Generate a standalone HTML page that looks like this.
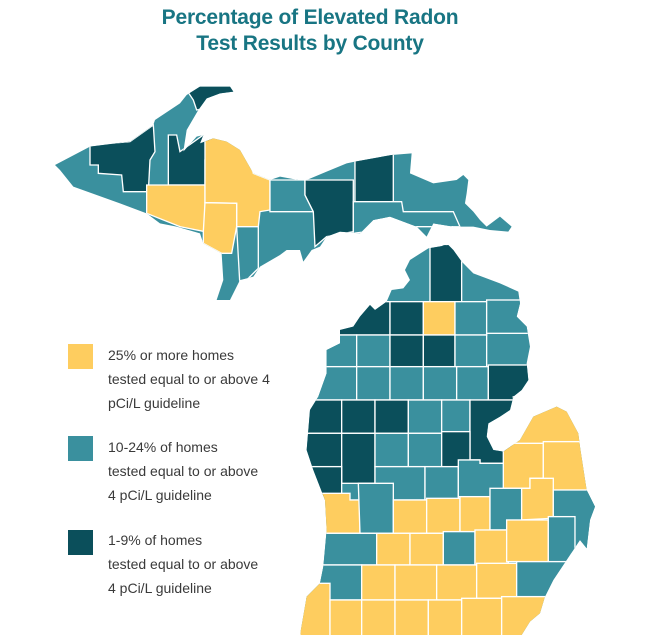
<!DOCTYPE html>
<html><head><style>
body{margin:0;background:#fff;width:658px;height:637px;overflow:hidden;position:relative;font-family:"Liberation Sans",sans-serif}
.t{position:absolute;left:0;width:620px;text-align:center;color:#187583;font-weight:bold;font-size:21px;line-height:26px;top:5px;letter-spacing:-0.2px}
.lg{position:absolute;left:68px;width:25px;height:25px}
.lt{position:absolute;left:108px;color:#3a3a3a;font-size:14px;line-height:24px}
</style></head><body>
<div class="t">Percentage of Elevated Radon<br>Test Results by County</div>
<div class="lg" style="top:344px;background:#fecd5f"></div>
<div class="lt" style="top:343px">25% or more homes<br>tested equal to or above 4<br>pCi/L guideline</div>
<div class="lg" style="top:436px;background:#3a909e"></div>
<div class="lt" style="top:435px">10-24% of homes<br>tested equal to or above<br>4 pCi/L guideline</div>
<div class="lg" style="top:530px;background:#0b4f5b"></div>
<div class="lt" style="top:528px">1-9% of homes<br>tested equal to or above<br>4 pCi/L guideline</div>
<svg width="658" height="637" style="position:absolute;left:0;top:0">
<defs>
<clipPath id="lp"><polygon points="385,55 445,45 460,60 485,95 520,130 600,160 655,185 660,220 650,260 680,290 690,350 680,400 685,450 665,480 640,500 630,540 600,560 565,580 560,620 580,660 610,665 660,630 700,560 770,530 800,545 835,610 840,650 860,780 885,830 870,870 860,955 840,930 800,990 760,1050 735,1100 720,1150 690,1175 665,1215 0,1215 20,1100 60,1060 70,1010 80,900 75,810 40,720 20,660 25,600 30,540 55,500 80,430 80,360 120,340 120,300 160,290 180,260 210,225 225,240 260,215 275,180 310,175 330,150 315,120 330,90"/></clipPath>
<clipPath id="up"><polygon points="45,255 150,200 270,185 340,135 345,120 420,70 440,45 480,20 570,20 580,35 540,40 500,55 475,90 440,150 430,215 470,170 490,165 480,190 520,175 560,185 600,210 640,280 690,300 720,290 775,300 800,300 860,275 920,250 945,245 1055,225 1115,220 1110,280 1180,310 1250,300 1270,285 1285,300 1280,340 1275,370 1300,395 1320,420 1340,440 1380,410 1415,440 1405,455 1350,450 1300,440 1240,440 1180,430 1160,470 1130,440 1050,410 1000,420 960,460 900,455 860,470 840,500 815,510 790,545 780,510 740,510 720,525 660,560 640,590 600,600 570,660 530,660 550,600 545,520 490,490 480,460 410,440 360,430 320,400 240,370 100,320 60,270"/></clipPath>
</defs>
<g transform="translate(40,80) scale(0.3333)">
<g clip-path="url(#up)" stroke="#fff" stroke-width="4">
<rect x="0" y="0" width="1500" height="700" fill="#3a909e"/>
<polygon fill="#0b4f5b" points="150,195 270,185 340,135 345,215 330,240 325,335 250,335 245,285 175,280 175,255 150,255"/>
<polygon fill="#0b4f5b" points="420,0 600,0 600,60 470,90 460,60"/>
<polygon fill="#0b4f5b" points="385,165 410,165 420,215 490,165 520,170 520,240 495,240 495,315 385,315"/>
<polygon fill="#fecd5f" points="320,315 495,315 495,455 420,440 320,400"/>
<polygon fill="#fecd5f" points="495,160 600,160 640,280 690,300 690,390 660,395 655,440 590,440 590,370 495,368"/>
<polygon fill="#fecd5f" points="495,368 590,370 590,440 575,520 545,520 490,490 490,455"/>
<polygon fill="#3a909e" points="590,440 655,440 655,565 600,620"/>
<polygon fill="#3a909e" points="690,300 795,300 795,345 820,395 690,395"/>
<polygon fill="#0b4f5b" points="795,300 940,300 940,455 860,470 825,500 820,395 795,345"/>
<polygon fill="#0b4f5b" points="945,230 1060,220 1060,365 945,365"/>
<polygon fill="#3a909e" points="940,365 1085,365 1090,395 1240,395 1260,440 1100,440 940,460"/>
</g>
</g>
<ellipse cx="445" cy="248" rx="4" ry="3" fill="#0b4f5b"/>
<g transform="translate(300,230) scale(0.3333)">
<g clip-path="url(#lp)" stroke="#fff" stroke-width="4">
<rect x="0" y="0" width="900" height="1220" fill="#3a909e" stroke="none"/>
<rect x="390" y="40" width="95" height="175" fill="#0b4f5b"/>
<rect x="100" y="215" width="170" height="100" fill="#0b4f5b"/>
<rect x="270" y="215" width="100" height="100" fill="#0b4f5b"/>
<rect x="370" y="215" width="95" height="100" fill="#fecd5f"/>
<rect x="465" y="215" width="95" height="100" fill="#3a909e"/>
<rect x="560" y="210" width="140" height="100" fill="#3a909e"/>
<rect x="60" y="315" width="110" height="95" fill="#3a909e"/>
<rect x="170" y="315" width="100" height="95" fill="#3a909e"/>
<rect x="270" y="315" width="100" height="95" fill="#0b4f5b"/>
<rect x="370" y="315" width="95" height="95" fill="#0b4f5b"/>
<rect x="465" y="315" width="95" height="95" fill="#3a909e"/>
<rect x="0" y="410" width="170" height="100" fill="#3a909e"/>
<rect x="170" y="410" width="100" height="100" fill="#3a909e"/>
<rect x="270" y="410" width="100" height="100" fill="#3a909e"/>
<rect x="370" y="410" width="100" height="100" fill="#3a909e"/>
<rect x="470" y="410" width="95" height="100" fill="#3a909e"/>
<rect x="565" y="405" width="140" height="105" fill="#0b4f5b"/>
<rect x="0" y="510" width="125" height="100" fill="#0b4f5b"/>
<rect x="125" y="510" width="100" height="100" fill="#0b4f5b"/>
<rect x="225" y="510" width="100" height="100" fill="#0b4f5b"/>
<rect x="325" y="510" width="100" height="100" fill="#3a909e"/>
<rect x="425" y="510" width="85" height="100" fill="#3a909e"/>
<polygon fill="#0b4f5b" points="510,510 640,510 640,700 540,700 540,690 510,690"/>
<rect x="0" y="610" width="125" height="100" fill="#0b4f5b"/>
<rect x="125" y="610" width="100" height="150" fill="#0b4f5b"/>
<rect x="225" y="610" width="100" height="100" fill="#3a909e"/>
<rect x="325" y="610" width="100" height="100" fill="#3a909e"/>
<rect x="425" y="605" width="85" height="105" fill="#0b4f5b"/>
<polygon fill="#fecd5f" points="610,640 730,640 730,745 690,745 690,775 610,775"/>
<polygon fill="#fecd5f" points="640,500 900,500 900,635 730,640 640,640"/>
<rect x="730" y="635" width="170" height="150" fill="#fecd5f"/>
<rect x="0" y="710" width="125" height="100" fill="#0b4f5b"/>
<rect x="225" y="710" width="150" height="100" fill="#3a909e"/>
<rect x="375" y="710" width="100" height="100" fill="#3a909e"/>
<polygon fill="#3a909e" points="475,690 540,690 540,700 610,700 610,800 475,800"/>
<polygon fill="#fecd5f" points="0,790 150,790 150,810 180,810 180,910 0,910"/>
<polygon fill="#3a909e" points="175,760 280,760 280,910 180,910"/>
<rect x="280" y="810" width="100" height="100" fill="#fecd5f"/>
<rect x="380" y="805" width="100" height="105" fill="#fecd5f"/>
<rect x="480" y="800" width="90" height="105" fill="#fecd5f"/>
<rect x="570" y="775" width="95" height="125" fill="#3a909e"/>
<polygon fill="#fecd5f" points="690,745 760,745 760,865 665,870 665,775 690,775"/>
<rect x="760" y="780" width="140" height="190" fill="#3a909e"/>
<rect x="0" y="910" width="230" height="95" fill="#3a909e"/>
<rect x="230" y="910" width="100" height="95" fill="#fecd5f"/>
<rect x="330" y="910" width="100" height="95" fill="#fecd5f"/>
<rect x="430" y="905" width="95" height="100" fill="#3a909e"/>
<rect x="525" y="900" width="100" height="105" fill="#fecd5f"/>
<rect x="620" y="870" width="125" height="125" fill="#fecd5f"/>
<rect x="745" y="860" width="80" height="135" fill="#3a909e"/>
<rect x="0" y="1005" width="185" height="105" fill="#3a909e"/>
<rect x="185" y="1005" width="100" height="105" fill="#fecd5f"/>
<rect x="285" y="1005" width="125" height="105" fill="#fecd5f"/>
<rect x="410" y="1005" width="120" height="105" fill="#fecd5f"/>
<rect x="530" y="1000" width="120" height="105" fill="#fecd5f"/>
<rect x="650" y="995" width="200" height="105" fill="#3a909e"/>
<polygon fill="#fecd5f" points="0,1060 90,1060 90,1220 0,1220"/>
<rect x="90" y="1110" width="95" height="110" fill="#fecd5f"/>
<rect x="185" y="1110" width="100" height="110" fill="#fecd5f"/>
<rect x="285" y="1110" width="100" height="110" fill="#fecd5f"/>
<rect x="385" y="1110" width="100" height="110" fill="#fecd5f"/>
<rect x="485" y="1105" width="120" height="115" fill="#fecd5f"/>
<rect x="605" y="1100" width="200" height="120" fill="#fecd5f"/>
</g>
</g>
</svg>
</body></html>
